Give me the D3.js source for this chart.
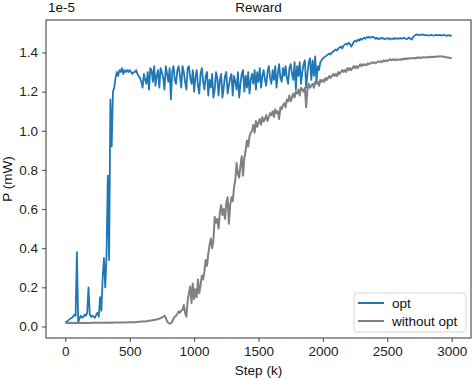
<!DOCTYPE html>
<html lang="en">
<head>
<meta charset="UTF-8">
<title>Reward</title>
<script src="https://d3js.org/d3.v7.min.js"></script>
<style>
  body { margin: 0; background: #fff; }
  svg { display: block; font-family: "Liberation Sans", Arial, sans-serif; }
</style>
</head>
<body>
<svg id="chart"></svg>
<script>
    const width = 474, height = 380;
    const margin = { top: 20, right: 3, bottom: 42, left: 46 };

    // step axis, in k, one sample every 10k
    const steps = d3.range(0, 3001, 10);

    const xTicks = [0, 500, 1000, 1500, 2000, 2500, 3000];
    const yTicks = [0.0, 0.2, 0.4, 0.6, 0.8, 1.0, 1.2, 1.4];
    const seriesNames = ["opt", "without opt"];
    const seriesColors = ["#1f77b4", "#808080"];

    // P (mW) x 1e-5
    const optVals = [
        0.025, 0.02, 0.03, 0.035, 0.04, 0.045, 0.05, 0.06, 0.055, 0.38,
        0.02, 0.04, 0.055, 0.045, 0.05, 0.06, 0.055, 0.07, 0.2, 0.06,
        0.05, 0.055, 0.05, 0.045, 0.06, 0.07, 0.05, 0.15, 0.08, 0.25,
        0.35, 0.2, 0.36, 0.77, 0.34, 1.16, 0.92, 1.2, 1.22, 1.27,
        1.3, 1.28, 1.31, 1.3, 1.32, 1.29, 1.31, 1.3, 1.31, 1.3,
        1.31, 1.3, 1.29, 1.3, 1.3, 1.31, 1.29, 1.28, 1.27, 1.25,
        1.22, 1.29, 1.26, 1.24, 1.30, 1.21, 1.32, 1.31, 1.25, 1.33,
        1.23, 1.28, 1.31, 1.22, 1.32, 1.30, 1.27, 1.21, 1.33, 1.29,
        1.25, 1.32, 1.16, 1.30, 1.33, 1.26, 1.24, 1.31, 1.33, 1.28,
        1.22, 1.33, 1.30, 1.25, 1.21, 1.32, 1.33, 1.27, 1.24, 1.31,
        1.20, 1.27, 1.31, 1.23, 1.19, 1.29, 1.32, 1.25, 1.21, 1.28,
        1.30, 1.18, 1.26, 1.22, 1.29, 1.17, 1.21, 1.30, 1.27, 1.18,
        1.26, 1.29, 1.17, 1.22, 1.28, 1.30, 1.19, 1.23, 1.27, 1.29,
        1.18, 1.28, 1.25, 1.21, 1.30, 1.17, 1.24, 1.29, 1.31, 1.20,
        1.28, 1.22, 1.30, 1.19, 1.26, 1.29, 1.24, 1.31, 1.21, 1.30,
        1.25, 1.32, 1.22, 1.28, 1.31, 1.26, 1.23, 1.30, 1.33, 1.27,
        1.24, 1.31, 1.26, 1.33, 1.22, 1.29, 1.34, 1.27, 1.25, 1.32,
        1.28, 1.33, 1.27, 1.24, 1.32, 1.34, 1.29, 1.26, 1.35, 1.21,
        1.33, 1.28, 1.35, 1.24, 1.30, 1.34, 1.36, 1.22, 1.29, 1.35,
        1.37, 1.26, 1.36, 1.28, 1.38, 1.25, 1.33, 1.31, 1.35, 1.36,
        1.37, 1.375, 1.38, 1.385, 1.39, 1.395, 1.39, 1.40, 1.405, 1.41,
        1.415, 1.41, 1.42, 1.425, 1.43, 1.42, 1.435, 1.44, 1.445, 1.44,
        1.45, 1.445, 1.43, 1.44, 1.455, 1.46, 1.455, 1.465, 1.46, 1.47,
        1.465, 1.47, 1.475, 1.47, 1.478, 1.475, 1.48, 1.475, 1.478, 1.48,
        1.475, 1.47, 1.475, 1.468, 1.472, 1.47, 1.476, 1.47, 1.468, 1.472,
        1.47, 1.474, 1.466, 1.47, 1.472, 1.468, 1.474, 1.47, 1.472, 1.47,
        1.474, 1.47, 1.472, 1.476, 1.47, 1.468, 1.472, 1.476, 1.47, 1.466,
        1.478, 1.485, 1.49, 1.492, 1.49, 1.488, 1.49, 1.492, 1.49, 1.488,
        1.49, 1.488, 1.486, 1.488, 1.49, 1.488, 1.486, 1.488, 1.49, 1.488,
        1.488, 1.49, 1.486, 1.488, 1.49, 1.488, 1.485, 1.487, 1.488, 1.485,
        1.487
    ];

    const withoutOptVals = [
        0.018, 0.018, 0.019, 0.018, 0.018, 0.019, 0.018, 0.018, 0.019, 0.018,
        0.018, 0.018, 0.018, 0.019, 0.018, 0.018, 0.018, 0.019, 0.018, 0.018,
        0.019, 0.019, 0.019, 0.019, 0.019, 0.019, 0.019, 0.019, 0.019, 0.019,
        0.019, 0.019, 0.019, 0.02, 0.019, 0.019, 0.02, 0.019, 0.02, 0.02,
        0.02, 0.02, 0.02, 0.02, 0.02, 0.02, 0.02, 0.02, 0.021, 0.021,
        0.021, 0.021, 0.022, 0.022, 0.022, 0.023, 0.023, 0.024, 0.024, 0.025,
        0.025, 0.026, 0.026, 0.027, 0.028, 0.029, 0.03, 0.031, 0.032, 0.033,
        0.034, 0.036, 0.038, 0.04, 0.043, 0.046, 0.05, 0.055, 0.045, 0.026,
        0.018, 0.015, 0.016, 0.025, 0.04, 0.05, 0.055, 0.065, 0.077, 0.07,
        0.08, 0.085, 0.11, 0.07, 0.05, 0.13, 0.17, 0.204, 0.12, 0.22,
        0.14, 0.19, 0.15, 0.24, 0.17, 0.21, 0.26, 0.24, 0.28, 0.34,
        0.31, 0.37, 0.417, 0.45, 0.40, 0.44, 0.56, 0.53, 0.55, 0.5,
        0.58, 0.62, 0.57, 0.6, 0.55, 0.63, 0.66, 0.525, 0.62, 0.66,
        0.64, 0.71, 0.75, 0.835, 0.78, 0.76, 0.82, 0.87, 0.77, 0.86,
        0.9, 0.95, 0.92, 0.97, 0.99, 1.0, 1.03, 0.99, 1.05, 1.02,
        1.04, 1.06, 1.03, 1.07, 1.047, 1.06, 1.08, 1.05, 1.07, 1.09,
        1.08, 1.1, 1.07, 1.11, 1.09, 1.10, 1.06, 1.12, 1.11, 1.13,
        1.14, 1.12, 1.16, 1.15, 1.18, 1.15, 1.17, 1.19, 1.17, 1.2,
        1.19, 1.21, 1.18, 1.22, 1.21, 1.2, 1.22, 1.12, 1.21, 1.24,
        1.22, 1.23, 1.24, 1.22, 1.25, 1.24, 1.25, 1.23, 1.26, 1.25,
        1.26, 1.25, 1.27, 1.26, 1.27, 1.28, 1.27, 1.28, 1.29, 1.28,
        1.29, 1.28, 1.3, 1.29, 1.3, 1.31, 1.3, 1.31, 1.30, 1.32,
        1.31, 1.32, 1.31, 1.32, 1.33, 1.32, 1.33, 1.32, 1.33, 1.34,
        1.33, 1.34, 1.335, 1.34, 1.335, 1.345, 1.34, 1.345, 1.35, 1.345,
        1.35, 1.345, 1.35, 1.355, 1.35, 1.355, 1.35, 1.36, 1.355, 1.36,
        1.355, 1.36, 1.365, 1.36, 1.365, 1.36, 1.365, 1.36, 1.365, 1.362,
        1.365, 1.362, 1.368, 1.365, 1.37, 1.366, 1.37, 1.368, 1.372, 1.37,
        1.37, 1.372, 1.37, 1.374, 1.372, 1.375, 1.372, 1.374, 1.376, 1.374,
        1.376, 1.374, 1.377, 1.375, 1.378, 1.376, 1.378, 1.377, 1.379, 1.38,
        1.379, 1.381, 1.38, 1.379, 1.378, 1.376, 1.375, 1.374, 1.373, 1.372,
        1.371
    ];

    const series = [optVals, withoutOptVals];

    const svg = d3.select("#chart")
        .attr("width", width)
        .attr("height", height);

    // matplotlib style 5% padding around the data
    const allY = optVals.concat(withoutOptVals);
    const yMin = d3.min(allY), yMax = d3.max(allY);
    const yPad = (yMax - yMin) * 0.05;
    const xPad = 3000 * 0.05;

    const x = d3.scaleLinear()
        .domain([-xPad, 3000 + xPad])
        .range([margin.left, width - margin.right]);
    const y = d3.scaleLinear()
        .domain([yMin - yPad, yMax + yPad])
        .range([height - margin.bottom, margin.top]);

    const fontSize = "13.5px";

    const xAxis = svg.append("g")
        .attr("transform", `translate(0,${height - margin.bottom})`)
        .call(d3.axisBottom(x).tickValues(xTicks).tickSize(4).tickPadding(4).tickFormat(d3.format("d")));
    const yAxis = svg.append("g")
        .attr("transform", `translate(${margin.left},0)`)
        .call(d3.axisLeft(y).tickValues(yTicks).tickSize(4).tickPadding(4).tickFormat(d3.format(".1f")));

    [xAxis, yAxis].forEach(a => {
        a.select(".domain").remove();
        a.selectAll("text").attr("fill", "#222").style("font-size", fontSize).style("font-family", "inherit");
        a.selectAll("line").attr("stroke", "#333").attr("stroke-width", 0.9);
    });

    const line = d3.line()
        .x((d, i) => x(steps[i]))
        .y(d => y(d));

    // blue first, grey drawn over it
    series.forEach((vals, i) => {
        svg.append("path")
            .datum(vals)
            .attr("fill", "none")
            .attr("stroke", seriesColors[i])
            .attr("stroke-width", i === 0 ? 1.8 : 2)
            .attr("stroke-linejoin", "round")
            .attr("d", line);
    });

    // frame
    svg.append("rect")
        .attr("x", margin.left)
        .attr("y", margin.top)
        .attr("width", width - margin.left - margin.right)
        .attr("height", height - margin.top - margin.bottom)
        .attr("fill", "none")
        .attr("stroke", "#333")
        .attr("stroke-width", 1);

    // titles
    svg.append("text")
        .attr("x", (margin.left + width - margin.right) / 2)
        .attr("y", 12)
        .attr("text-anchor", "middle")
        .style("font-size", fontSize)
        .attr("fill", "#111")
        .text("Reward");
    svg.append("text")
        .attr("x", margin.left + 2)
        .attr("y", 12)
        .style("font-size", fontSize)
        .attr("fill", "#111")
        .text("1e-5");
    svg.append("text")
        .attr("x", (margin.left + width - margin.right) / 2)
        .attr("y", 375)
        .attr("text-anchor", "middle")
        .style("font-size", fontSize)
        .attr("fill", "#111")
        .text("Step (k)");
    svg.append("text")
        .attr("transform", `translate(12,${(margin.top + height - margin.bottom) / 2}) rotate(-90)`)
        .attr("text-anchor", "middle")
        .style("font-size", fontSize)
        .attr("fill", "#111")
        .text("P (mW)");

    // legend
    const legend = svg.append("g").attr("transform", "translate(354,293)");
    legend.append("rect")
        .attr("width", 112)
        .attr("height", 39)
        .attr("rx", 3)
        .attr("fill", "#fff")
        .attr("stroke", "#d6d6d6");
    seriesNames.forEach((name, i) => {
        const ly = 10 + i * 18;
        legend.append("line")
            .attr("x1", 4).attr("x2", 30)
            .attr("y1", ly).attr("y2", ly)
            .attr("stroke", seriesColors[i])
            .attr("stroke-width", 2);
        legend.append("text")
            .attr("x", 38)
            .attr("y", ly + 4.5)
            .style("font-size", fontSize)
            .attr("fill", "#111")
            .text(name);
    });
</script>
</body>
</html>
